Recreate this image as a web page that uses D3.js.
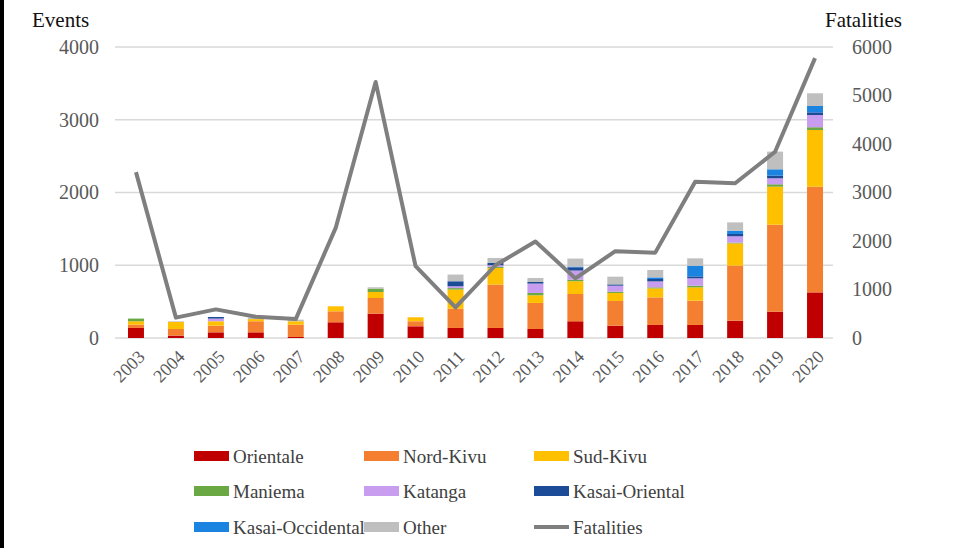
<!DOCTYPE html>
<html>
<head>
<meta charset="utf-8">
<script src="https://cdnjs.cloudflare.com/ajax/libs/d3/7.8.5/d3.min.js"></script>
<style>
  html, body { margin: 0; padding: 0; background: #fff; }
  svg { display: block; }
</style>
</head>
<body>
<div id="chart"></div>
<script>
// data (events per province, fatalities total)
const years = ['2003', '2004', '2005', '2006', '2007', '2008', '2009', '2010', '2011',
  '2012', '2013', '2014', '2015', '2016', '2017', '2018', '2019', '2020']
const provinces = ['Orientale', 'Nord-Kivu', 'Sud-Kivu', 'Maniema', 'Katanga',
  'Kasai-Oriental', 'Kasai-Occidental', 'Other']
const orientale = [138, 33, 78, 78, 14, 216, 335, 161, 138, 138, 124, 230, 169, 179, 179, 238, 362, 627]
const nordKivu = [46, 91, 92, 152, 170, 151, 215, 69, 266, 596, 358, 375, 340, 379, 334, 757, 1195, 1453]
const sudKivu = [46, 96, 60, 30, 46, 69, 82, 55, 262, 229, 105, 175, 110, 124, 183, 306, 523, 779]
const maniema = [37, 0, 0, 0, 0, 0, 47, 0, 20, 15, 32, 23, 18, 14, 23, 10, 33, 38]
const katanga = [0, 0, 37, 0, 0, 0, 0, 0, 25, 22, 129, 124, 82, 82, 101, 87, 82, 168]
const kasaiOriental = [0, 0, 22, 0, 0, 0, 0, 0, 69, 32, 22, 45, 18, 33, 27, 32, 36, 37]
const kasaiOccidental = [0, 0, 0, 0, 0, 0, 0, 0, 0, 0, 0, 10, 0, 22, 147, 45, 88, 87]
const other = [0, 9, 0, 19, 22, 0, 18, 0, 92, 68, 55, 110, 106, 102, 101, 114, 243, 175]
const fatalities = [3420, 420, 590, 440, 390, 2270, 5280, 1480, 630, 1500, 1990, 1230, 1790, 1760, 3220, 3190, 3840, 5770]
const eventTicks = [0, 1000, 2000, 3000, 4000]
const fatalTicks = [0, 1000, 2000, 3000, 4000, 5000, 6000]

const colors = ['#c00000', '#f47f30', '#ffc000', '#6aa844', '#c89cef', '#1c4c98', '#1a84e0', '#bfbfbf']
const seriesValues = [orientale, nordKivu, sudKivu, maniema, katanga, kasaiOriental, kasaiOccidental, other]

const width = 958
const height = 548
const chart = {left: 116, right: 835, top: 47, bottom: 338}
const serif = '"Liberation Serif", "DejaVu Serif", serif'

const svg = d3.select('#chart').append('svg')
  .attr('width', width)
  .attr('height', height)
  .attr('font-family', serif)

// dark strip at the left edge of the screenshot
svg.append('rect').attr('x', 0).attr('y', 0).attr('width', 4).attr('height', height).attr('fill', '#000')

const rows = years.map((y, i) => {
  const r = {year: y}
  provinces.forEach((p, j) => { r[p] = seriesValues[j][i] })
  return r
})
const stacked = d3.stack().keys(provinces)(rows)

const x = d3.scaleBand().domain(years).range([chart.left, chart.right])
  .paddingInner(0.6).paddingOuter(0.3)
const yEvents = d3.scaleLinear().domain([0, 4000]).range([chart.bottom, chart.top])
const yFatal = d3.scaleLinear().domain([0, 6000]).range([chart.bottom, chart.top])
const color = d3.scaleOrdinal().domain(provinces).range(colors)

// gridlines
svg.append('g').selectAll('line')
  .data(eventTicks)
  .join('line')
  .attr('x1', chart.left - 1)
  .attr('x2', chart.right - 2)
  .attr('y1', d => yEvents(d))
  .attr('y2', d => yEvents(d))
  .attr('stroke', '#d9d9d9')
  .attr('stroke-width', 1.5)

// left axis
const leftAxis = svg.append('g')
  .attr('transform', 'translate(' + (chart.left - 17) + ',0)')
  .call(d3.axisLeft(yEvents).tickValues(eventTicks).tickFormat(d3.format('d')).tickSize(0).tickPadding(0))
leftAxis.attr('font-family', serif)
leftAxis.select('.domain').remove()
leftAxis.selectAll('text')
  .attr('fill', '#595959')
  .style('font-size', '20px')

// right axis
const rightAxis = svg.append('g')
  .attr('transform', 'translate(' + (chart.right + 17) + ',0)')
  .call(d3.axisRight(yFatal).tickValues(fatalTicks).tickFormat(d3.format('d')).tickSize(0).tickPadding(0))
rightAxis.attr('font-family', serif)
rightAxis.select('.domain').remove()
rightAxis.selectAll('text')
  .attr('fill', '#595959')
  .style('font-size', '20px')

// x labels
const bottomAxis = svg.append('g')
  .attr('transform', 'translate(0,' + chart.bottom + ')')
  .call(d3.axisBottom(x).tickSize(0).tickPadding(0))
bottomAxis.attr('font-family', serif)
bottomAxis.select('.domain').remove()
bottomAxis.selectAll('text')
  .attr('fill', '#595959')
  .attr('text-anchor', 'end')
  .attr('dy', 0)
  .attr('transform', 'translate(10,20) rotate(-45)')
  .style('font-size', '18px')

// stacked bars
svg.append('g').selectAll('g')
  .data(stacked)
  .join('g')
  .attr('fill', d => color(d.key))
  .selectAll('rect')
  .data(d => d)
  .join('rect')
  .attr('x', d => x(d.data.year))
  .attr('width', x.bandwidth())
  .attr('y', d => yEvents(d[1]))
  .attr('height', d => yEvents(d[0]) - yEvents(d[1]))

// fatalities line
const line = d3.line()
  .x((d, i) => x(years[i]) + x.bandwidth() / 2)
  .y(d => yFatal(d))
svg.append('path')
  .datum(fatalities)
  .attr('d', line)
  .attr('fill', 'none')
  .attr('stroke', '#7f7f7f')
  .attr('stroke-width', 4)
  .attr('stroke-linejoin', 'round')

// axis titles
svg.append('text').attr('x', 32).attr('y', 27).text('Events')
  .attr('fill', '#111').style('font-size', '21px')
svg.append('text').attr('x', 825).attr('y', 27).text('Fatalities')
  .attr('fill', '#111').style('font-size', '21px')

// legend
const legendItems = provinces.concat(['Fatalities'])
const colX = [194, 364, 534]
const rowY = [456, 491, 527]
const legend = svg.append('g').selectAll('g')
  .data(legendItems)
  .join('g')
  .attr('transform', (d, i) => 'translate(' + colX[i % 3] + ',' + rowY[Math.floor(i / 3)] + ')')

legend.filter(d => d !== 'Fatalities').append('rect')
  .attr('x', 0)
  .attr('y', -5)
  .attr('width', 35)
  .attr('height', 10)
  .attr('fill', d => color(d))
legend.filter(d => d === 'Fatalities').append('line')
  .attr('x1', 0)
  .attr('x2', 35)
  .attr('y1', 0)
  .attr('y2', 0)
  .attr('stroke', '#7f7f7f')
  .attr('stroke-width', 4)
legend.append('text')
  .attr('x', 39)
  .attr('y', 0)
  .attr('dy', '0.35em')
  .attr('fill', '#404040')
  .attr('font-family', serif)
  .style('font-size', '19px')
  .text(d => d)
</script>
</body>
</html>
